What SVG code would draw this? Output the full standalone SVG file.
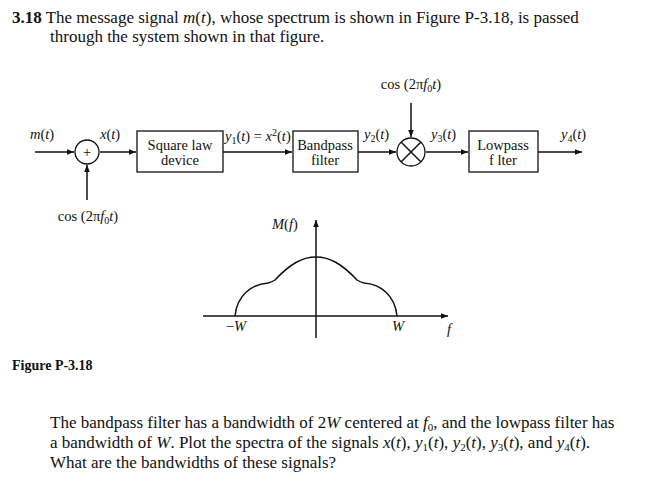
<svg xmlns="http://www.w3.org/2000/svg" width="647" height="502" viewBox="0 0 647 502">
<defs><marker id="ah" viewBox="0 0 10 10" refX="10" refY="5" markerWidth="9" markerHeight="7" markerUnits="userSpaceOnUse" orient="auto"><path d="M0,1 L10,5 L0,9 Z" fill="#111"/></marker></defs>
<style>
text{font-family:"Liberation Serif",serif;fill:#111}
.p{font-size:17px}
.l{font-size:14.5px}
.i{font-style:italic}
.b{fill:#fff;stroke:#111;stroke-width:1.3}
.w{fill:none;stroke:#111;stroke-width:1.5}
</style>
<rect width="647" height="502" fill="#fff"/>
<text class="p" x="12" y="23"><tspan font-weight="bold">3.18</tspan> The message signal <tspan class="i">m</tspan>(<tspan class="i">t</tspan>), whose spectrum is shown in Figure P-3.18, is passed</text>
<text class="p" x="50" y="42">through the system shown in that figure.</text>
<g id="connectors">
<line class="w" x1="35" y1="152" x2="74" y2="152" marker-end="url(#ah)"/>
<line class="w" x1="87" y1="200" x2="87" y2="165" marker-end="url(#ah)"/>
<line class="w" x1="100" y1="152" x2="136" y2="152" marker-end="url(#ah)"/>
<line class="w" x1="223" y1="152" x2="292" y2="152" marker-end="url(#ah)"/>
<line class="w" x1="358" y1="152" x2="396" y2="152" marker-end="url(#ah)"/>
<line class="w" x1="411" y1="103" x2="411" y2="137" marker-end="url(#ah)"/>
<line class="w" x1="426" y1="152" x2="468" y2="152" marker-end="url(#ah)"/>
<line class="w" x1="538" y1="152" x2="582" y2="152" marker-end="url(#ah)"/>
</g>
<g id="adder"><circle class="b" cx="87" cy="152" r="12"/><text class="l" x="87" y="157" text-anchor="middle">+</text></g>
<g id="square"><rect class="b" x="137" y="131" width="86" height="41"/><text class="l" x="180" y="150" text-anchor="middle">Square law</text><text class="l" x="180" y="165" text-anchor="middle">device</text></g>
<g id="bandpass"><rect class="b" x="293" y="131" width="65" height="41"/><text class="l" x="325" y="150" text-anchor="middle">Bandpass</text><text class="l" x="325" y="165" text-anchor="middle">filter</text></g>
<g id="mixer"><circle class="b" cx="411" cy="152" r="14"/><path class="w" d="M401,142 L421,162 M421,142 L401,162"/></g>
<g id="lowpass"><rect class="b" x="469" y="131" width="69" height="41"/><text class="l" x="503" y="150" text-anchor="middle">Lowpass</text><text class="l" x="503" y="165" text-anchor="middle">f lter</text></g>
<g id="labels">
<text class="l" x="30" y="139"><tspan class="i">m</tspan>(<tspan class="i">t</tspan>)</text>
<text class="l" x="100" y="139"><tspan class="i">x</tspan>(<tspan class="i">t</tspan>)</text>
<text class="l" x="225" y="141"><tspan class="i">y</tspan><tspan font-size="10" dy="3">1</tspan><tspan dy="-3">(</tspan><tspan class="i">t</tspan>) = <tspan class="i">x</tspan><tspan font-size="10" dy="-5">2</tspan><tspan dy="5">(</tspan><tspan class="i">t</tspan>)</text>
<text class="l" x="364" y="139"><tspan class="i">y</tspan><tspan font-size="10" dy="3">2</tspan><tspan dy="-3">(</tspan><tspan class="i">t</tspan>)</text>
<text class="l" x="431" y="139"><tspan class="i">y</tspan><tspan font-size="10" dy="3">3</tspan><tspan dy="-3">(</tspan><tspan class="i">t</tspan>)</text>
<text class="l" x="561" y="139"><tspan class="i">y</tspan><tspan font-size="10" dy="3">4</tspan><tspan dy="-3">(</tspan><tspan class="i">t</tspan>)</text>
<text class="l" x="411" y="89" text-anchor="middle">cos (2π<tspan class="i">f</tspan><tspan font-size="10" dy="3">0</tspan><tspan class="i" dy="-3">t</tspan>)</text>
<text class="l" x="88" y="221" text-anchor="middle">cos (2π<tspan class="i">f</tspan><tspan font-size="10" dy="3">0</tspan><tspan class="i" dy="-3">t</tspan>)</text>
</g>
<g id="spectrum">
<line class="w" x1="203" y1="316" x2="448" y2="316" marker-end="url(#ah)"/>
<line class="w" x1="316" y1="338" x2="316" y2="220" marker-end="url(#ah)"/>
<path class="w" d="M235,316 C237,295 252,284 268,283 Q272,282 275,280 C290,264 302,257 316,257 C330,257 342,264 357,280 Q360,282 364,283 C380,284 395,295 397,316"/>
<text class="l" x="272" y="229"><tspan class="i">M</tspan>(<tspan class="i">f</tspan>)</text>
<text class="l" x="236" y="331" text-anchor="middle">−<tspan class="i">W</tspan></text>
<text class="l" x="398" y="331" text-anchor="middle"><tspan class="i">W</tspan></text>
<text class="l" x="447" y="334"><tspan class="i">f</tspan></text>
</g>
<text x="12" y="370" font-size="14" font-weight="bold">Figure P-3.18</text>
<text class="p" x="50" y="428">The bandpass filter has a bandwidth of 2<tspan class="i">W</tspan> centered at <tspan class="i">f</tspan><tspan font-size="11" dy="3">0</tspan><tspan dy="-3">, and the lowpass filter has</tspan></text>
<text class="p" x="50" y="448">a bandwidth of <tspan class="i">W</tspan>. Plot the spectra of the signals <tspan class="i">x</tspan>(<tspan class="i">t</tspan>), <tspan class="i">y</tspan><tspan font-size="11" dy="3">1</tspan><tspan dy="-3">(</tspan><tspan class="i">t</tspan>), <tspan class="i">y</tspan><tspan font-size="11" dy="3">2</tspan><tspan dy="-3">(</tspan><tspan class="i">t</tspan>), <tspan class="i">y</tspan><tspan font-size="11" dy="3">3</tspan><tspan dy="-3">(</tspan><tspan class="i">t</tspan>), and <tspan class="i">y</tspan><tspan font-size="11" dy="3">4</tspan><tspan dy="-3">(</tspan><tspan class="i">t</tspan>).</text>
<text class="p" x="50" y="468">What are the bandwidths of these signals?</text>
</svg>
